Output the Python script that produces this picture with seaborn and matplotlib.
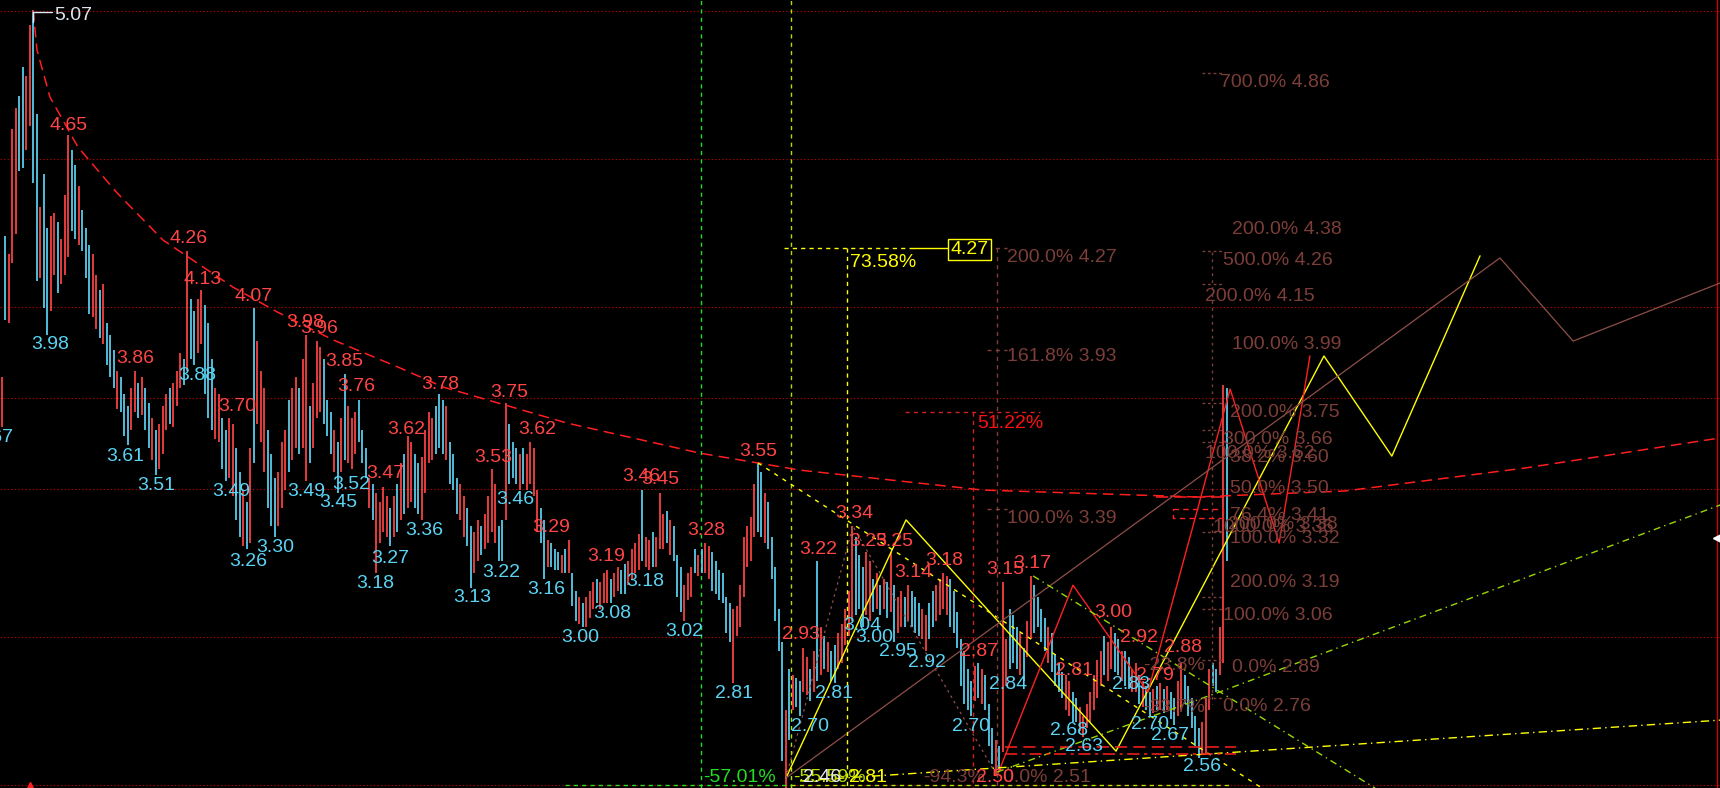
import numpy as np
import pandas as pd
import matplotlib
matplotlib.use("Agg")
import matplotlib.pyplot as plt
import seaborn as sns

sns.set_theme(style="dark", rc={"axes.facecolor": "black", "figure.facecolor": "black"})
plt.rcParams['font.family'] = ['Liberation Sans', 'DejaVu Sans']

# candle data (bar index = position)
highs = [
    3.84, 4.31, 4.25, 4.67, 4.74, 4.78, 4.88, 4.85, 5.02, 5.07,
    4.72, 4.41, 4.52, 4.34, 4.38, 4.39, 4.36, 4.30, 4.45, 4.65,
    4.60, 4.55, 4.48, 4.40, 4.34, 4.28, 4.25, 4.18, 4.13, 4.15,
    4.02, 3.98, 3.93, 3.86, 3.84, 3.78, 3.74, 3.80, 3.86, 3.82,
    3.84, 3.80, 3.75, 3.70, 3.66, 3.68, 3.74, 3.78, 3.80, 3.82,
    3.86, 3.92, 3.90, 4.26, 4.10, 4.06, 4.10, 4.13, 4.08, 4.02,
    3.90, 3.80, 3.78, 3.70, 3.66, 3.70, 3.68, 3.60, 3.52, 3.46,
    3.42, 3.60, 4.07, 3.96, 3.86, 3.80, 3.66, 3.58, 3.50, 3.52,
    3.62, 3.66, 3.76, 3.80, 3.84, 3.80, 3.90, 3.98, 3.74, 3.82,
    3.96, 3.94, 3.90, 3.76, 3.72, 3.66, 3.62, 3.70, 3.85, 3.74,
    3.70, 3.72, 3.76, 3.66, 3.60, 3.50, 3.48, 3.45, 3.42, 3.47,
    3.44, 3.40, 3.44, 3.48, 3.55, 3.58, 3.64, 3.62, 3.58, 3.55,
    3.57, 3.66, 3.72, 3.70, 3.74, 3.78, 3.76, 3.74, 3.62, 3.58,
    3.50, 3.48, 3.44, 3.40, 3.34, 3.32, 3.36, 3.34, 3.38, 3.44,
    3.53, 3.48, 3.34, 3.36, 3.75, 3.68, 3.62, 3.60, 3.58, 3.60,
    3.58, 3.62, 3.60, 3.46, 3.40, 3.36, 3.29, 3.28, 3.26, 3.25,
    3.24, 3.26, 3.29, 3.18, 3.12, 3.10, 3.08, 3.10, 3.12, 3.15,
    3.16, 3.15, 3.18, 3.19, 3.16, 3.18, 3.20, 3.19, 3.21, 3.22,
    3.26, 3.28, 3.31, 3.46, 3.30, 3.29, 3.32, 3.30, 3.45, 3.38,
    3.39, 3.36, 3.34, 3.24, 3.20, 3.14, 3.18, 3.20, 3.26, 3.24,
    3.26, 3.28, 3.27, 3.25, 3.22, 3.19, 3.18, 3.10, 3.08, 3.06,
    3.07, 3.14, 3.30, 3.34, 3.37, 3.48, 3.55, 3.52, 3.45, 3.42,
    3.30, 3.20, 3.06, 2.95, 2.72, 2.86, 2.84, 2.83, 2.82, 2.93,
    2.90, 2.86, 2.92, 3.22, 3.00, 2.97, 2.95, 2.92, 2.94, 2.98,
    3.01, 3.06, 3.12, 3.34, 3.30, 3.24, 3.20, 3.25, 3.22, 3.16,
    3.18, 3.14, 3.16, 3.15, 3.25, 3.14, 3.10, 3.12, 3.10, 3.14,
    3.12, 3.10, 3.08, 3.06, 3.04, 3.08, 3.12, 3.14, 3.16, 3.18,
    3.17, 3.16, 3.12, 3.05, 2.96, 2.92, 2.86, 2.82, 2.87, 2.88,
    2.86, 2.84, 2.74, 2.66, 2.62, 2.60, 3.15, 2.96, 3.06, 3.04,
    3.00, 2.98, 2.93, 3.02, 3.17, 3.14, 3.10, 3.06, 3.03, 3.00,
    2.98, 2.91, 2.88, 2.85, 2.84, 2.82, 2.78, 2.76, 2.73, 2.70,
    2.74, 2.78, 2.84, 2.89, 2.92, 2.97, 2.95, 3.00, 2.98, 2.96,
    2.92, 2.92, 2.90, 2.86, 2.88, 2.84, 2.82, 2.80, 2.78, 2.79,
    2.80, 2.81, 2.79, 2.80, 2.78, 2.76, 2.82, 2.88, 2.84, 2.80,
    2.76, 2.70, 2.66, 2.68, 2.76, 2.86, 2.88, 2.86, 3.00, 3.81,
    3.80,
]
lows = [
    3.67, 4.03, 4.02, 4.22, 4.32, 4.53, 4.54, 4.60, 4.68, 4.49,
    4.16, 4.17, 4.07, 3.98, 4.06, 4.18, 4.12, 4.15, 4.18, 4.24,
    4.33, 4.30, 4.28, 4.26, 4.17, 4.05, 4.04, 4.00, 3.97, 3.95,
    3.88, 3.84, 3.80, 3.73, 3.72, 3.64, 3.61, 3.66, 3.72, 3.70,
    3.71, 3.66, 3.60, 3.56, 3.51, 3.53, 3.58, 3.66, 3.68, 3.67,
    3.74, 3.80, 3.81, 3.86, 3.90, 3.88, 3.92, 3.95, 3.78, 3.70,
    3.66, 3.63, 3.62, 3.53, 3.49, 3.50, 3.44, 3.36, 3.30, 3.27,
    3.26, 3.28, 3.55, 3.68, 3.62, 3.52, 3.40, 3.34, 3.30, 3.34,
    3.40, 3.46, 3.52, 3.56, 3.60, 3.58, 3.60, 3.49, 3.55, 3.60,
    3.70, 3.72, 3.68, 3.64, 3.58, 3.52, 3.45, 3.52, 3.56, 3.55,
    3.53, 3.58, 3.62, 3.55, 3.50, 3.40, 3.36, 3.18, 3.28, 3.32,
    3.30, 3.27, 3.30, 3.32, 3.36, 3.38, 3.40, 3.42, 3.40, 3.38,
    3.36, 3.45, 3.55, 3.56, 3.58, 3.60, 3.58, 3.56, 3.48, 3.46,
    3.38, 3.36, 3.30, 3.27, 3.13, 3.18, 3.22, 3.24, 3.26, 3.28,
    3.32, 3.28, 3.22, 3.22, 3.36, 3.48, 3.50, 3.48, 3.46, 3.48,
    3.46, 3.48, 3.44, 3.32, 3.28, 3.16, 3.20, 3.20, 3.19, 3.19,
    3.18, 3.18, 3.18, 3.07, 3.02, 3.01, 3.00, 3.00, 3.03, 3.06,
    3.08, 3.06, 3.08, 3.08, 3.08, 3.10, 3.12, 3.11, 3.11, 3.14,
    3.16, 3.18, 3.19, 3.22, 3.20, 3.19, 3.20, 3.20, 3.26, 3.26,
    3.28, 3.24, 3.22, 3.10, 3.05, 3.02, 3.09, 3.10, 3.18, 3.17,
    3.18, 3.18, 3.16, 3.12, 3.11, 3.09, 3.08, 2.98, 2.95, 2.81,
    2.97, 3.00, 3.10, 3.20, 3.22, 3.30, 3.32, 3.30, 3.28, 3.26,
    3.16, 3.02, 2.92, 2.55, 2.46, 2.62, 2.72, 2.73, 2.70, 2.78,
    2.77, 2.75, 2.78, 2.82, 2.84, 2.86, 2.85, 2.82, 2.81, 2.86,
    2.88, 2.94, 2.97, 3.02, 3.04, 3.06, 3.00, 3.04, 3.02, 3.05,
    3.06, 3.04, 3.06, 3.03, 3.05, 2.95, 2.98, 3.00, 3.00, 3.02,
    3.00, 2.98, 2.97, 2.96, 2.92, 2.96, 3.00, 3.02, 3.04, 3.06,
    3.04, 3.00, 2.98, 2.93, 2.80, 2.74, 2.72, 2.70, 2.75, 2.76,
    2.74, 2.72, 2.60, 2.54, 2.50, 2.52, 2.58, 2.80, 2.86, 2.88,
    2.86, 2.84, 2.82, 2.90, 2.96, 2.98, 3.00, 2.95, 2.92, 2.88,
    2.85, 2.80, 2.78, 2.76, 2.72, 2.70, 2.68, 2.68, 2.65, 2.63,
    2.66, 2.68, 2.72, 2.76, 2.80, 2.84, 2.82, 2.86, 2.85, 2.84,
    2.82, 2.80, 2.79, 2.78, 2.78, 2.74, 2.73, 2.72, 2.70, 2.71,
    2.72, 2.72, 2.71, 2.72, 2.69, 2.67, 2.70, 2.72, 2.74, 2.70,
    2.66, 2.60, 2.56, 2.57, 2.57, 2.72, 2.80, 2.78, 2.84, 2.88,
    3.22,
]
# r = rising (red), c = falling (cyan)
candle_dir = [
    "rcrrrccrrc", "crccrrcrrr", "ccrcccrrcr", "cccrcccrrc", "rccrcrrrcr",
    "rrcrccrrcc", "crrccrrccr", "crcrrrcccr", "rrcrrcrrcr", "rrcccrcrcr",
    "rrcccrcrrr", "rcrcrcrrcc", "rrrrcccrcc", "crrccrrcrr", "rrccrcccrc",
    "rrrrccrccc", "rcrccrcrrr", "crrrcrrccr", "rrrcrrcrrr", "crcccrrrcr",
    "crrccccccr", "rrrrrrccrc", "ccccrcrccr", "rcrcrcrccr", "rrrrcccrrc",
    "rcrcrcrrcr", "cccrrccrrr", "rcccccccrc", "rcccrcrrcc", "crcrrccccr",
    "ccccrrccrr", "rrrrrcrrcc", "rccrrcrccr", "crcrccrrcc", "cccrrrccrrc",
]

grid_levels = [5.067, 4.570, 4.073, 3.768, 3.463, 2.966, 2.469]

# price labels at swing highs / lows (value, bar, anchor price)
high_vals = [4.65, 4.26, 4.13, 4.07, 3.98, 3.96, 3.85, 3.76, 3.86, 3.70, 3.47, 3.62,
             3.78, 3.75, 3.62, 3.53, 3.29, 3.19, 3.46, 3.45, 3.28, 3.55, 3.34, 3.22,
             2.93, 3.25, 3.25, 3.14, 3.18, 2.87, 3.15, 3.17, 2.81, 3.00, 2.92, 2.79, 2.88]
high_bar = [18.9, 53.4, 57.4, 72.0, 86.6, 90.6, 97.7, 101.1, 38.0, 67.1, 109.4, 115.4,
            125.1, 144.9, 152.9, 140.3, 156.9, 172.6, 182.6, 188.0, 201.1, 216.0, 243.4, 233.1,
            228.3, 247.4, 254.9, 260.3, 269.1, 279.1, 286.6, 294.3, 306.3, 317.4, 324.9, 329.4, 337.4]
high_pos = [4.684, 4.302, 4.167, 4.107, 4.020, 4.000, 3.892, 3.805, 3.902, 3.741, 3.513, 3.661,
            3.815, 3.788, 3.661, 3.570, 3.332, 3.235, 3.503, 3.496, 3.322, 3.590, 3.382, 3.261,
            2.973, 3.288, 3.288, 3.181, 3.224, 2.916, 3.194, 3.214, 2.855, 3.047, 2.966, 2.838, 2.932]

low_vals = [3.98, 3.88, 3.61, 3.51, 3.49, 3.26, 3.30, 3.49, 3.45, 3.52, 3.27, 3.18,
            3.36, 3.46, 3.22, 3.13, 3.16, 3.00, 3.08, 3.18, 3.02, 2.81, 3.04, 3.00,
            2.95, 2.92, 2.81, 2.70, 2.70, 2.84, 2.68, 2.63, 2.83, 2.70, 2.67, 2.56]
low_bar = [13.7, 55.7, 35.1, 44.0, 65.4, 70.3, 78.0, 86.9, 96.0, 99.7, 110.9, 106.6,
           120.6, 146.6, 142.6, 134.3, 155.4, 165.1, 174.3, 183.7, 194.9, 209.1, 245.7, 249.1,
           256.0, 264.3, 237.7, 230.9, 276.9, 287.4, 304.9, 309.1, 322.6, 328.0, 333.7, 342.9]
low_pos = [3.946, 3.845, 3.573, 3.473, 3.453, 3.221, 3.265, 3.453, 3.416, 3.479, 3.231, 3.147,
           3.325, 3.426, 3.184, 3.097, 3.127, 2.966, 3.046, 3.151, 2.986, 2.778, 3.003, 2.966,
           2.916, 2.882, 2.778, 2.667, 2.667, 2.808, 2.651, 2.597, 2.805, 2.671, 2.637, 2.533]

# fibonacci level captions (text, left bar, anchor price)
fib_text = ["700.0% 4.86", "200.0% 4.38", "500.0% 4.26", "200.0% 4.15", "100.0% 3.99",
            "200.0% 3.75", "300.0% 3.66", "100.0% 3.62", "38.2% 3.60", "50.0% 3.50",
            "76.4% 3.41", "200.0% 3.38", "1000.0% 3.36", "100.0% 3.32", "200.0% 3.19",
            "100.0% 3.06", "0.0% 2.89", "0.0% 2.76", "200.0% 4.27", "161.8% 3.93",
            "100.0% 3.39", "0.0% 2.51", "-94.3%", "-23.8%", "-33.7%"]
fib_bar = [348.0, 351.4, 348.9, 343.7, 351.4, 350.9, 348.9, 343.7, 350.9, 350.9,
           350.9, 350.3, 346.0, 350.9, 350.9, 348.9, 351.4, 348.9, 287.1, 287.1,
           287.1, 286.0, 263.1, 326.0, 326.0]
fib_pos = [4.828, 4.335, 4.228, 4.107, 3.949, 3.721, 3.630, 3.583, 3.567, 3.466,
           3.375, 3.345, 3.335, 3.295, 3.150, 3.037, 2.865, 2.734, 4.238, 3.906,
           3.365, 2.496, 2.496, 2.872, 2.728]
fib_ticks = [4.86, 4.26, 4.15, 3.75, 3.66, 3.62, 3.32, 3.10, 3.06, 2.89, 2.76]

# drawing tools
arc_bar = [8.9, 10.0, 13.7, 21.7, 32.9, 46.0, 66.0, 78.6, 94.6, 113.7, 126.0, 161.4,
           199.4, 228.0, 280.3, 341.4, 383.7, 435.1, 490.9]
arc_price = [5.070, 4.936, 4.778, 4.610, 4.456, 4.298, 4.140, 4.057, 3.963, 3.869, 3.805,
             3.684, 3.583, 3.526, 3.459, 3.436, 3.456, 3.533, 3.634]
zig_y_bar = [224.0, 258.3, 318.3, 377.7, 397.1, 422.3]
zig_y_price = [2.493, 3.359, 2.583, 3.909, 3.573, 4.245]
zig_r_bar = [284.3, 306.0, 327.4, 350.9, 364.9, 373.7]
zig_r_price = [2.500, 3.140, 2.781, 3.798, 3.281, 3.909]
brown_bar = [224.0, 428.0, 448.9, 490.9]
brown_price = [2.493, 4.238, 3.959, 4.154]
wave_bar = [224.0, 243.1, 284.3]
wave_price = [2.493, 3.338, 2.500]

RED = '#ff4545'
CYAN = '#5ad4f4'
BROWN = '#7c3e38'
YEL = '#ffff00'

df = pd.DataFrame({'bar': np.arange(len(highs)), 'high': highs, 'low': lows,
                   'dir': list("".join(candle_dir))})

fig = plt.figure(figsize=(17.2, 7.88), dpi=100, facecolor='black')
ax = fig.add_axes([0, 0, 1, 1])
ax.set_facecolor('black')
ax.set_xlim(-0.57, 490.86)
ax.set_ylim(2.4593, 5.1036)
ax.set_xticks([])
ax.set_yticks([])
for s in ax.spines.values():
    s.set_visible(False)

for lv in grid_levels:
    ax.axhline(lv, color='#b00000', lw=0.8, ls=(0, (1.2, 2.0)), zorder=1)

ax.vlines(df['bar'], df['low'], df['high'],
          colors=df['dir'].map({'r': RED, 'c': CYAN}), lw=1.25, zorder=3)


def line(xs, ys, color, ls='-', lw=1.0, z=4):
    sns.lineplot(x=xs, y=ys, ax=ax, color=color, linestyle=ls, lw=lw,
                 sort=False, estimator=None, zorder=z)


line(arc_bar, arc_price, '#ff1e1e', ls=(0, (7, 4)), lw=1.1)
line(zig_y_bar, zig_y_price, YEL, lw=1.0)
line(zig_r_bar, zig_r_price, '#ff2020', lw=1.0)
line(brown_bar, brown_price, '#8e5048', lw=0.9)
line(wave_bar, wave_price, '#8e5048', ls=(0, (2, 3)), lw=0.9)
line([216.0, 360.0], [3.550, 2.459], YEL, ls=(0, (3, 4)), lw=1.0)
line([294.6, 392.3], [3.171, 2.459], '#9ad600', ls=(0, (5, 3, 1, 3)), lw=1.0)
line([228.0, 490.9], [2.483, 2.687], YEL, ls=(0, (6, 3, 1, 3)), lw=1.0)
line([284.3, 349.4, 490.9], [2.513, 2.788, 3.409], '#9ad600', ls=(0, (5, 3, 1, 3)), lw=1.0)

# vertical markers and measuring tools
ax.axvline(199.7, color='#22dd22', lw=1.0, ls=(0, (3, 3)), zorder=2)
ax.axvline(225.4, color='#b0e000', lw=1.0, ls=(0, (3, 3)), zorder=2)
line([160.9, 225.4], [2.469, 2.469], '#22dd22', ls=(0, (3, 3)), lw=1.0)
line([225.4, 350.9], [2.469, 2.469], '#b0e000', ls=(0, (3, 3)), lw=1.0)
line([241.4, 241.4], [4.27, 2.459], YEL, ls=(0, (3, 3)), lw=1.0)
line([223.4, 260.3], [4.27, 4.27], YEL, ls=(0, (3, 3)), lw=1.0)
line([260.3, 270.3], [4.27, 4.27], YEL, lw=1.0)
line([284.3, 284.3], [4.27, 2.459], BROWN, ls=(0, (3, 3)), lw=1.0)
line([277.4, 277.4], [3.721, 2.459], '#d02020', ls=(0, (3, 3)), lw=1.0)
line([258.0, 296.6], [3.721, 3.721], '#d02020', ls=(0, (3, 3)), lw=1.0)
for lv in [4.27, 3.93, 3.396]:
    line([281.5, 287.1], [lv, lv], BROWN, ls=(0, (3, 3)), lw=1.0)
for lv in fib_ticks:
    line([342.9, 348.9], [lv, lv], BROWN, ls=(0, (2, 2)), lw=1.0)
line([345.7, 345.7], [4.258, 2.740], BROWN, ls=(0, (2, 3)), lw=1.0)
line([286.6, 352.6], [2.597, 2.597], '#ff2020', ls=(0, (8, 4)), lw=1.1)
line([286.6, 352.6], [2.573, 2.573], '#ff2020', ls=(0, (8, 3, 2, 3)), lw=1.1)
line([329.7, 348.9], [3.436, 3.436], '#ff2020', ls=(0, (8, 4)), lw=1.1)
line([334.6, 348.9, 348.9, 334.6, 334.6], [3.396, 3.396, 3.365, 3.365, 3.396],
     '#ff2020', ls=(0, (4, 3)), lw=1.0)
ax.axvline(490.0, color='#cc0000', lw=1.0, zorder=2)
line([8.86, 14.3], [5.063, 5.063], '#dde6f0', lw=1.0)
line([8.86, 8.86], [5.063, 5.03], '#dde6f0', lw=1.0)
ax.plot([490.3], [3.299], marker='<', color='white', ms=7, zorder=7)
ax.plot([8.0], [2.468], marker='^', color='#ff2020', ms=4, zorder=7)

FS = 14
for v, b, p in zip(high_vals, high_bar, high_pos):
    ax.text(b, p, f"{v:.2f}", color=RED, fontsize=FS, ha='center', va='center', zorder=6)
for v, b, p in zip(low_vals, low_bar, low_pos):
    ax.text(b, p, f"{v:.2f}", color=CYAN, fontsize=FS, ha='center', va='center', zorder=6)
ax.text(3.1, 3.637, "3.67", color=CYAN, fontsize=FS, ha='right', va='center')
ax.text(14.9, 5.052, "5.07", color='#dde6f0', fontsize=FS, ha='left', va='center')
for t, b, p in zip(fib_text, fib_bar, fib_pos):
    ax.text(b, p, t, color=BROWN, fontsize=FS, ha='left', va='center', zorder=5)

ax.text(242.3, 4.224, "73.58%", color=YEL, fontsize=FS, ha='left', va='center', zorder=6)
ax.text(276.4, 4.266, "4.27", color=YEL, fontsize=FS, ha='center', va='center', zorder=6,
        bbox=dict(facecolor='black', edgecolor=YEL, pad=1.5, lw=1.0))
ax.text(278.6, 3.681, "51.22%", color='#ff1010', fontsize=FS, ha='left', va='center', zorder=6)
ax.text(200.3, 2.496, "-57.01%", color='#22dd22', fontsize=FS, ha='left', va='center', zorder=6)
ax.text(226.0, 2.496, "-55.59%", color='#b8e000', fontsize=FS, ha='left', va='center', zorder=6)
ax.text(234.3, 2.496, "2.46", color='#e8e8f0', fontsize=FS, ha='center', va='center', zorder=6)
ax.text(247.4, 2.496, "2.81", color=YEL, fontsize=FS, ha='center', va='center', zorder=6)
ax.text(283.7, 2.496, "2.50", color=RED, fontsize=FS, ha='center', va='center', zorder=6)

fig.savefig("out.png", dpi=100, facecolor='black')
